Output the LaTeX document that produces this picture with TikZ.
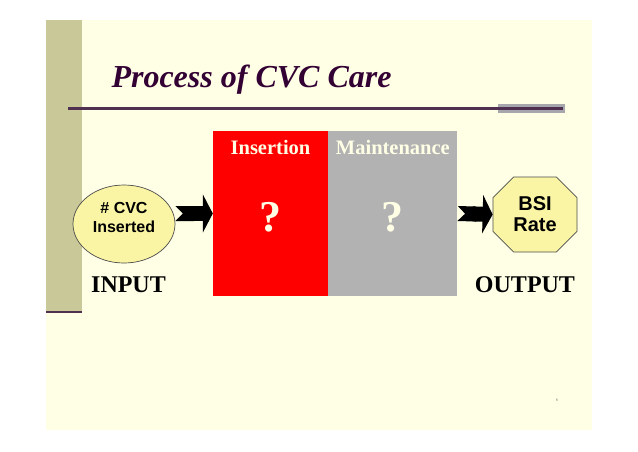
\documentclass[tikz,border=0pt]{standalone}
\usepackage{fontspec}
\setmainfont{Liberation Serif}
\setsansfont{Liberation Sans}
\usetikzlibrary{shapes.geometric,shapes.misc,arrows.meta}

\definecolor{slide}{RGB}{255,255,230}
\definecolor{olive}{RGB}{200,200,152}
\definecolor{plum}{RGB}{51,0,51}
\definecolor{rulecol}{RGB}{80,48,80}
\definecolor{rulegray}{RGB}{166,166,172}
\definecolor{pale}{RGB}{250,245,165}
\definecolor{boxgray}{RGB}{178,178,178}
\definecolor{boxred}{RGB}{255,0,0}

\tikzset{
  fatarrow/.style={line width=15pt, {Triangle Cap[reversed]}-{Triangle[width=38pt,length=10pt]}},
  stage/.style={minimum height=165pt, inner sep=0pt},
  stagehead/.style={text=slide, font=\bfseries\fontsize{20.5}{22}\selectfont},
  quest/.style={text=slide, font=\bfseries\fontsize{44}{44}\selectfont},
  sticker/.style={fill=pale, draw=black!70, line width=0.7pt, inner sep=0pt},
  stickertext/.style={align=center, font=\sffamily\bfseries\fontsize{16}{19}\selectfont},
  io/.style={font=\bfseries\fontsize{24}{26}\selectfont}
}

\begin{document}
\begin{tikzpicture}[x=1pt,y=-1pt]
        \useasboundingbox (0,0) rectangle (638,451);

        % slide
        \fill[slide] (46,20) rectangle (592,430);
        \fill[olive] (46,20) rectangle (82,311);
        \draw[rulecol, line width=2.5pt] (46,312) -- (82,312);
        \fill[rulegray] (498,104) rectangle (565,113);
        \draw[rulecol, line width=2.5pt] (68,108.5) -- (563,108.5);

        \node[anchor=base west, text=plum, font=\bfseries\itshape\fontsize{32}{34}\selectfont] (title) at (108,87) {Process of CVC Care};

        % input
        \node[sticker, ellipse, minimum width=102pt, minimum height=78pt] (cvc) at (124,224) {};
        \node[stickertext] (cvctext) at ([yshift=7pt]cvc.center) {\# CVC\\Inserted};
        \node[io] (input) at (128.5,285) {INPUT};

        % process
        \node[stage, fill=boxred, minimum width=115pt] (ins) at (270.5,213.5) {};
        \node[stage, fill=boxgray, minimum width=129pt, anchor=west] (mnt) at (ins.east) {};
        \node[stagehead] (inshead) at ([yshift=-17pt]ins.north) {Insertion};
        \node[stagehead] (mnthead) at ([yshift=-17pt]mnt.north) {Maintenance};
        \node[quest] (insq) at ([yshift=-4pt]ins.center) {?};
        \node[quest] (mntq) at ([yshift=-4pt]mnt.center) {?};

        % output
        \node[sticker, chamfered rectangle, chamfered rectangle xsep=18pt, minimum width=84pt, minimum height=75pt, stickertext, font=\sffamily\bfseries\fontsize{20}{21}\selectfont] (bsi) at (535,214.5) {BSI\\Rate};
        \node[io] (output) at (525,285) {OUTPUT};

        \draw[fatarrow] (ins.west -| cvc.east) -- (ins.west);
        \draw[fatarrow] (mnt.east) -- (bsi.west);

        \node[text=black!60, font=\fontsize{5}{5}\selectfont] (pageno) at (557,400) {v};
\end{tikzpicture}
\end{document}
